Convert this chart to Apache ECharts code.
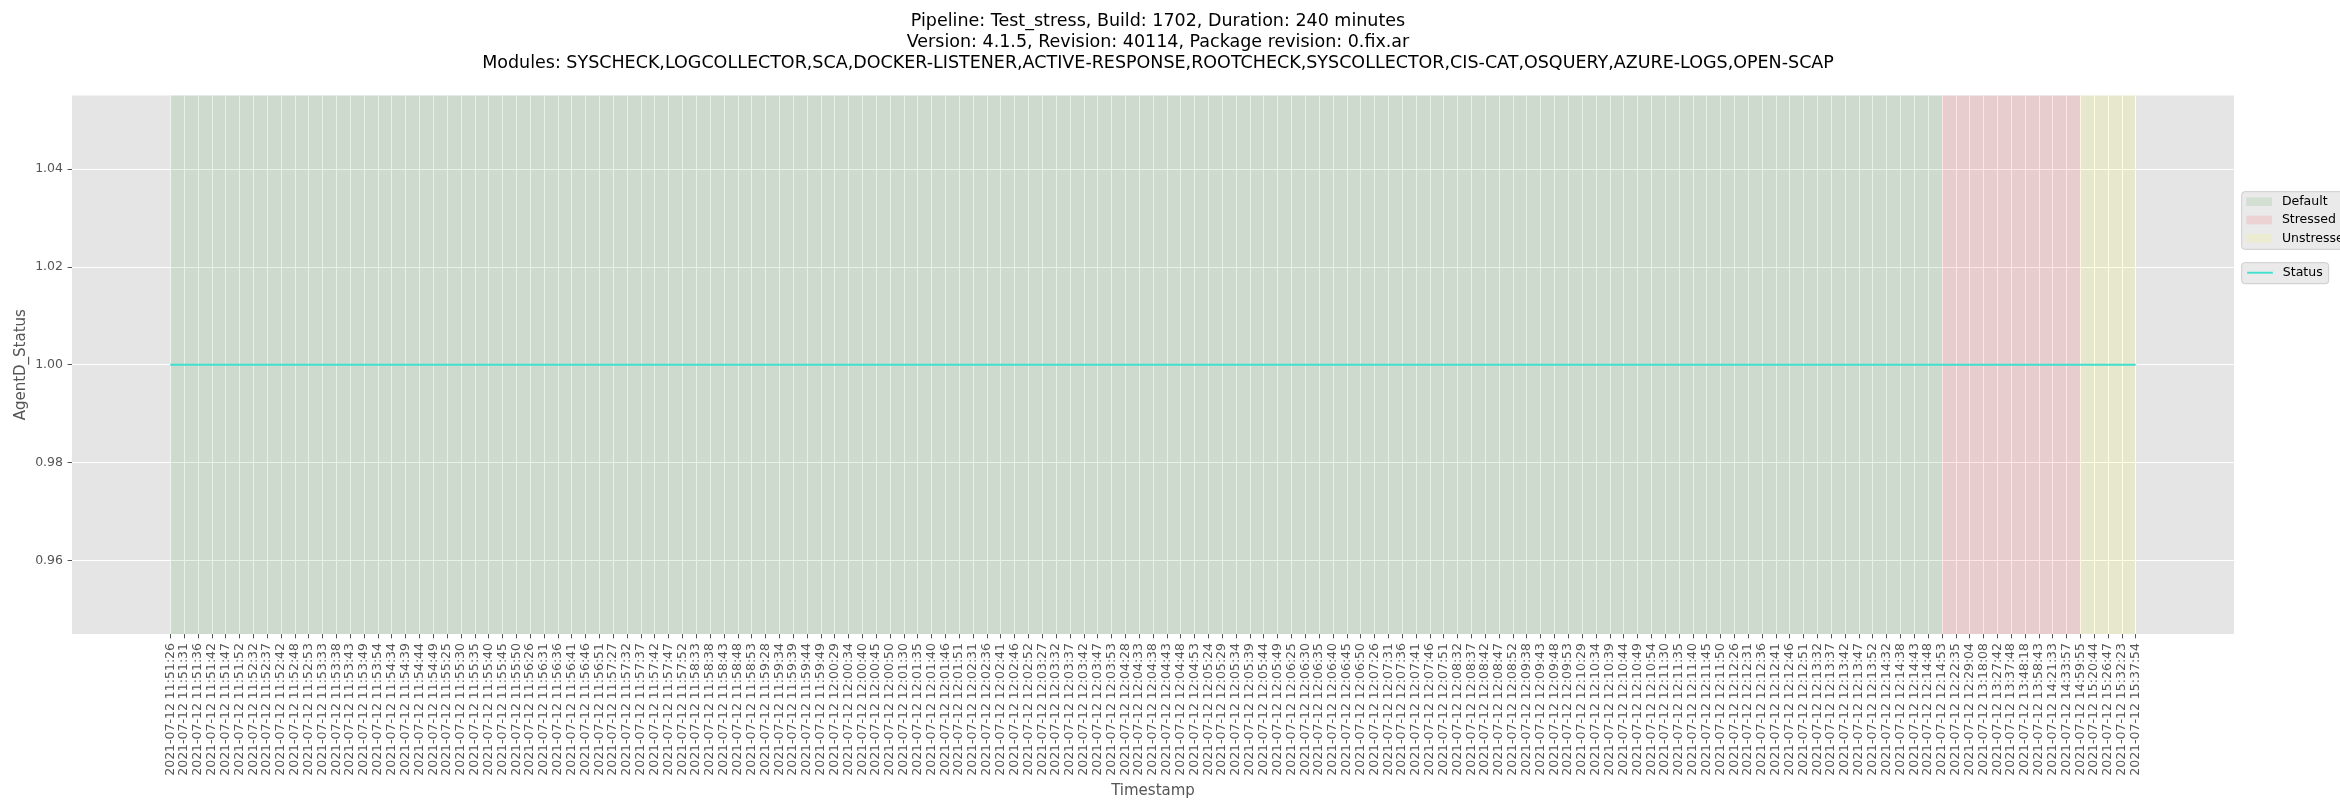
<!DOCTYPE html>
<html><head><meta charset="utf-8">
<script src="https://cdn.jsdelivr.net/npm/echarts@6/dist/echarts.min.js"></script>
<style>html,body{margin:0;padding:0;background:#fff}#c{width:2340px;height:810px}</style>
</head><body><div id="c"></div>
<script>
const timestamps = [
'2021-07-12 11:51:26','2021-07-12 11:51:31','2021-07-12 11:51:36','2021-07-12 11:51:42','2021-07-12 11:51:47','2021-07-12 11:51:52',
'2021-07-12 11:52:32','2021-07-12 11:52:37','2021-07-12 11:52:42','2021-07-12 11:52:48','2021-07-12 11:52:53',
'2021-07-12 11:53:33','2021-07-12 11:53:38','2021-07-12 11:53:43','2021-07-12 11:53:49','2021-07-12 11:53:54',
'2021-07-12 11:54:34','2021-07-12 11:54:39','2021-07-12 11:54:44','2021-07-12 11:54:49',
'2021-07-12 11:55:25','2021-07-12 11:55:30','2021-07-12 11:55:35','2021-07-12 11:55:40','2021-07-12 11:55:45','2021-07-12 11:55:50',
'2021-07-12 11:56:26','2021-07-12 11:56:31','2021-07-12 11:56:36','2021-07-12 11:56:41','2021-07-12 11:56:46','2021-07-12 11:56:51',
'2021-07-12 11:57:27','2021-07-12 11:57:32','2021-07-12 11:57:37','2021-07-12 11:57:42','2021-07-12 11:57:47','2021-07-12 11:57:52',
'2021-07-12 11:58:33','2021-07-12 11:58:38','2021-07-12 11:58:43','2021-07-12 11:58:48','2021-07-12 11:58:53',
'2021-07-12 11:59:28','2021-07-12 11:59:34','2021-07-12 11:59:39','2021-07-12 11:59:44','2021-07-12 11:59:49',
'2021-07-12 12:00:29','2021-07-12 12:00:34','2021-07-12 12:00:40','2021-07-12 12:00:45','2021-07-12 12:00:50',
'2021-07-12 12:01:30','2021-07-12 12:01:35','2021-07-12 12:01:40','2021-07-12 12:01:46','2021-07-12 12:01:51',
'2021-07-12 12:02:31','2021-07-12 12:02:36','2021-07-12 12:02:41','2021-07-12 12:02:46','2021-07-12 12:02:52',
'2021-07-12 12:03:27','2021-07-12 12:03:32','2021-07-12 12:03:37','2021-07-12 12:03:42','2021-07-12 12:03:47','2021-07-12 12:03:53',
'2021-07-12 12:04:28','2021-07-12 12:04:33','2021-07-12 12:04:38','2021-07-12 12:04:43','2021-07-12 12:04:48','2021-07-12 12:04:53',
'2021-07-12 12:05:24','2021-07-12 12:05:29','2021-07-12 12:05:34','2021-07-12 12:05:39','2021-07-12 12:05:44','2021-07-12 12:05:49',
'2021-07-12 12:06:25','2021-07-12 12:06:30','2021-07-12 12:06:35','2021-07-12 12:06:40','2021-07-12 12:06:45','2021-07-12 12:06:50',
'2021-07-12 12:07:26','2021-07-12 12:07:31','2021-07-12 12:07:36','2021-07-12 12:07:41','2021-07-12 12:07:46','2021-07-12 12:07:51',
'2021-07-12 12:08:32','2021-07-12 12:08:37','2021-07-12 12:08:42','2021-07-12 12:08:47','2021-07-12 12:08:52',
'2021-07-12 12:09:38','2021-07-12 12:09:43','2021-07-12 12:09:48','2021-07-12 12:09:53',
'2021-07-12 12:10:29','2021-07-12 12:10:34','2021-07-12 12:10:39','2021-07-12 12:10:44','2021-07-12 12:10:49','2021-07-12 12:10:54',
'2021-07-12 12:11:30','2021-07-12 12:11:35','2021-07-12 12:11:40','2021-07-12 12:11:45','2021-07-12 12:11:50',
'2021-07-12 12:12:26','2021-07-12 12:12:31','2021-07-12 12:12:36','2021-07-12 12:12:41','2021-07-12 12:12:46','2021-07-12 12:12:51',
'2021-07-12 12:13:32','2021-07-12 12:13:37','2021-07-12 12:13:42','2021-07-12 12:13:47','2021-07-12 12:13:52',
'2021-07-12 12:14:32','2021-07-12 12:14:38','2021-07-12 12:14:43','2021-07-12 12:14:48','2021-07-12 12:14:53',
'2021-07-12 12:22:35','2021-07-12 12:29:04','2021-07-12 13:18:08','2021-07-12 13:27:42','2021-07-12 13:37:48',
'2021-07-12 13:48:18','2021-07-12 13:58:43','2021-07-12 14:21:33','2021-07-12 14:33:57','2021-07-12 14:59:55',
'2021-07-12 15:20:44','2021-07-12 15:26:47','2021-07-12 15:32:23','2021-07-12 15:37:54'
];
const statusValues = [
1,1,1,1,1,1,1,1,1,1,1,1,1,1,1,1,1,1,1,1,
1,1,1,1,1,1,1,1,1,1,1,1,1,1,1,1,1,1,1,1,
1,1,1,1,1,1,1,1,1,1,1,1,1,1,1,1,1,1,1,1,
1,1,1,1,1,1,1,1,1,1,1,1,1,1,1,1,1,1,1,1,
1,1,1,1,1,1,1,1,1,1,1,1,1,1,1,1,1,1,1,1,
1,1,1,1,1,1,1,1,1,1,1,1,1,1,1,1,1,1,1,1,
1,1,1,1,1,1,1,1,1,1,1,1,1,1,1,1,1,1,1,1,
1,1,1
];
const yTicks = [0.96, 0.98, 1.00, 1.02, 1.04];
const phaseNames = ['Default', 'Stressed', 'Unstressed'];
const phaseStart = ['2021-07-12 11:51:26', '2021-07-12 12:14:53', '2021-07-12 14:59:55'];
const phaseEnd = ['2021-07-12 12:14:53', '2021-07-12 14:59:55', '2021-07-12 15:37:54'];
const phaseColors = ['rgba(0,128,0,0.1)', 'rgba(255,0,0,0.1)', 'rgba(255,255,0,0.1)'];
const titleLines = [
  'Pipeline: Test_stress, Build: 1702, Duration: 240 minutes',
  'Version: 4.1.5, Revision: 40114, Package revision: 0.fix.ar',
  'Modules: SYSCHECK,LOGCOLLECTOR,SCA,DOCKER-LISTENER,ACTIVE-RESPONSE,ROOTCHECK,SYSCOLLECTOR,CIS-CAT,OSQUERY,AZURE-LOGS,OPEN-SCAP'
];

const FONT = 'DejaVu Sans';
const n = timestamps.length;
const idx = timestamps.map((_, i) => i);
const pad = 0.05 * (n - 1);

const chart = echarts.init(document.getElementById('c'), null, {renderer: 'canvas'});

const phaseSeries = phaseNames.map((name, k) => ({
  type: 'line', name: name, data: [], color: phaseColors[k], z: 1,
  markArea: {
    silent: true,
    itemStyle: {color: phaseColors[k], borderWidth: 0},
    data: [[{xAxis: timestamps.indexOf(phaseStart[k])}, {xAxis: timestamps.indexOf(phaseEnd[k])}]]
  }
}));

const legendBase = {
  orient: 'vertical', left: 2241.7,
  backgroundColor: 'rgba(229,229,229,0.8)', borderColor: '#cccccc', borderWidth: 1, borderRadius: 3,
  itemWidth: 25.7, itemHeight: 8.7, itemGap: 3.3,
  textStyle: {fontFamily: FONT, fontSize: 12.5, color: '#000', lineHeight: 15, padding: [0, 0, 0, 5]},
  padding: [2.5, 6, 3.5, 4.5], selectedMode: false
};

chart.setOption({
  animation: false,
  backgroundColor: '#ffffff',
  textStyle: {fontFamily: FONT},
  title: {
    text: titleLines.join('\n'),
    left: 1153, top: 5.5, textAlign: 'center',
    textStyle: {fontFamily: FONT, fontSize: 17.5, fontWeight: 'normal', color: '#000', lineHeight: 21}
  },
  legend: [
    Object.assign({}, legendBase, {
      top: 191.7,
      data: phaseNames.map((nm, k) => ({name: nm, icon: 'rect', itemStyle: {color: phaseColors[k]}}))
    }),
    Object.assign({}, legendBase, {
      top: 262.7,
      data: [{name: 'Status', itemStyle: {opacity: 0}, lineStyle: {color: '#40E0D0', width: 1.9}}]
    })
  ],
  grid: {left: 72, right: 106, top: 95.5, bottom: 176, show: true, backgroundColor: '#e5e5e5', borderWidth: 0},
  xAxis: {
    type: 'value', min: -pad, max: n - 1 + pad,
    name: 'Timestamp', nameLocation: 'middle', nameGap: 149.5, nameMoveOverlap: false,
    nameTextStyle: {fontFamily: FONT, fontSize: 15, color: '#555555'},
    axisLine: {show: false, onZero: false},
    axisTick: {show: true, customValues: idx, length: 4.4, lineStyle: {color: '#555555', width: 1}},
    axisLabel: {
      customValues: idx, rotate: 90, margin: 9, fontFamily: FONT, fontSize: 12.5, color: '#555555',
      formatter: v => timestamps[Math.round(v)]
    },
    splitLine: {show: true, lineStyle: {color: '#ffffff', width: 1}}
  },
  yAxis: {
    type: 'value', min: 0.945, max: 1.055,
    name: 'AgentD_Status', nameLocation: 'middle', nameGap: 43, nameMoveOverlap: false,
    nameTextStyle: {fontFamily: FONT, fontSize: 15, color: '#555555'},
    axisLine: {show: false, onZero: false},
    axisTick: {show: true, customValues: yTicks, length: 4.4, lineStyle: {color: '#555555', width: 1}},
    axisLabel: {
      customValues: yTicks, margin: 9, fontFamily: FONT, fontSize: 12.5, color: '#555555',
      formatter: v => v.toFixed(2)
    },
    splitLine: {show: true, lineStyle: {color: '#ffffff', width: 1}}
  },
  series: phaseSeries.concat([{
    type: 'line', name: 'Status', z: 3,
    data: statusValues.map((v, i) => [i, v]),
    symbol: 'none', showSymbol: false,
    color: '#40E0D0',
    lineStyle: {color: '#40E0D0', width: 1.9}
  }])
});
</script>
</body></html>
